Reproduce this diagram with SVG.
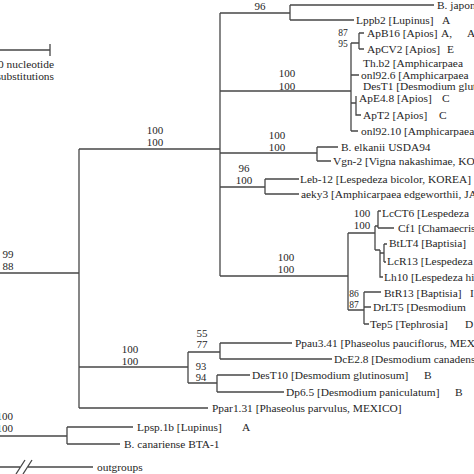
<svg xmlns="http://www.w3.org/2000/svg" width="474" height="474" viewBox="0 0 474 474">
<style>
.e{stroke:#474747;stroke-width:1.3;fill:none}
text{font-family:"Liberation Serif","Times New Roman",serif;fill:#262626}
.l{font-size:11.4px}
.b{font-size:11px;text-anchor:middle}
.s{font-size:9.5px;text-anchor:middle}
.r{font-size:11px;text-anchor:end}
</style>
<rect width="474" height="474" fill="#fff"/>
<g id="connectors" class="e">
<path d="M0,50 H50 M50,44 V56"/>
<path d="M0,467 H20 M28,467 H93 M16,474 L25,460 M23,474 L32,460"/>
<path d="M0,436 H67 M67,427 V444 M67,427 H133 M67,444 H120"/>
<path d="M0,273 H79 M79,149 V408 M79,149 H220 M79,367 H188 M79,408 H208"/>
<path d="M220,13 V276 M220,13 H290 M220,91 H351 M220,153 H317 M220,187 H265 M220,276 H348"/>
<path d="M290,5 V20 M290,5 H434 M290,20 H354"/>
<path d="M351,43 V131 M351,43 H359 M359,33 V49 M359,33 H364 M359,49 H364 M351,75 H359 M351,103 H356 M356,96 V115 H361 M351,131 H358"/>
<path d="M317,147 V161 M317,147 H338 M317,161 H331"/>
<path d="M265,179 V194 M265,179 H299 M265,194 H299"/>
<path d="M348,233 V310 M348,233 H375 M348,310 H364"/>
<path d="M375,226 V250 M375,226 H378 M378,211 V228 M378,211 H381 M378,228 H394 M375,250 H380 M380,250 V277 H383 M380,253 H384 M384,244 V262 M384,244 H387 M384,262 H386"/>
<path d="M364,292 V324 M364,292 H381 M364,307 H371 M364,324 H369"/>
<path d="M188,352 V383 M188,352 H220 M188,383 H217"/>
<path d="M220,343 V359 M220,343 H292 M220,359 H332"/>
<path d="M217,375 V392 M217,375 H250 M217,392 H284"/>
</g>
<g id="scale">
<text class="l" x="54" y="68" text-anchor="end">10 nucleotide</text>
<text class="l" x="54" y="80" text-anchor="end">substitutions</text>
</g>
<g id="outgroups"><text class="l" x="97" y="471">outgroups</text></g>
<g id="n-japonicum"><text class="l" x="437" y="9">B. japonicum</text></g>
<g id="n-lppb2"><text class="l" x="356" y="24">Lppb2 [Lupinus]<tspan x="442">A</tspan></text></g>
<g id="n-apb16"><text class="l" x="367" y="37">ApB16 [Apios]<tspan x="441">A,</tspan><tspan x="467">A</tspan></text></g>
<g id="n-apcv2"><text class="l" x="367" y="53">ApCV2 [Apios]<tspan x="447">E</tspan></text></g>
<g id="n-thb2"><text class="l" x="363" y="67">Th.b2 [Amphicarpaea</text></g>
<g id="n-onl926"><text class="l" x="361" y="79">onl92.6 [Amphicarpaea</text></g>
<g id="n-dest1"><text class="l" x="363" y="90">DesT1 [Desmodium glutinosum</text></g>
<g id="n-ape48"><text class="l" x="359" y="102">ApE4.8 [Apios]<tspan x="442">C</tspan></text></g>
<g id="n-apt2"><text class="l" x="363" y="119">ApT2 [Apios]<tspan x="439">C</tspan></text></g>
<g id="n-onl9210"><text class="l" x="361" y="135">onl92.10 [Amphicarpaea</text></g>
<g id="n-elkanii"><text class="l" x="341" y="151">B. elkanii USDA94</text></g>
<g id="n-vgn2"><text class="l" x="333" y="165">Vgn-2 [Vigna nakashimae, KOREA</text></g>
<g id="n-leb12"><text class="l" x="300" y="183">Leb-12 [Lespedeza bicolor, KOREA]</text></g>
<g id="n-aeky3"><text class="l" x="301" y="198">aeky3 [Amphicarpaea edgeworthii, JAPAN</text></g>
<g id="n-lcct6"><text class="l" x="382" y="217">LcCT6 [Lespedeza</text></g>
<g id="n-cf1"><text class="l" x="398" y="232">Cf1 [Chamaecrista</text></g>
<g id="n-btlt4"><text class="l" x="389" y="247">BtLT4 [Baptisia]</text></g>
<g id="n-lcr13"><text class="l" x="387" y="265">LcR13 [Lespedeza</text></g>
<g id="n-lh10"><text class="l" x="384" y="281">Lh10 [Lespedeza hirta</text></g>
<g id="n-btr13"><text class="l" x="384" y="297">BtR13 [Baptisia]<tspan x="470">I</tspan></text></g>
<g id="n-drlt5"><text class="l" x="373" y="311">DrLT5 [Desmodium</text></g>
<g id="n-tep5"><text class="l" x="370" y="328">Tep5 [Tephrosia]<tspan x="465">D</tspan></text></g>
<g id="n-ppau341"><text class="l" x="295" y="347">Ppau3.41 [Phaseolus pauciflorus, MEXICO]</text></g>
<g id="n-dce28"><text class="l" x="334" y="363">DcE2.8 [Desmodium canadense]</text></g>
<g id="n-dest10"><text class="l" x="252" y="379">DesT10 [Desmodium glutinosum]<tspan x="424">B</tspan></text></g>
<g id="n-dp65"><text class="l" x="286" y="396">Dp6.5 [Desmodium paniculatum]<tspan x="455">B</tspan></text></g>
<g id="n-ppar131"><text class="l" x="212" y="412">Ppar1.31 [Phaseolus parvulus, MEXICO]</text></g>
<g id="n-lpsp1b"><text class="l" x="137" y="431">Lpsp.1b [Lupinus]<tspan x="242">A</tspan></text></g>
<g id="n-canariense"><text class="l" x="124" y="448">B. canariense BTA-1</text></g>
<g id="supports">
<text class="b" x="260" y="10">96</text>
<text class="b" x="287" y="77">100</text><text class="b" x="287" y="90">100</text>
<text class="s" x="343" y="36">87</text><text class="s" x="343" y="47">95</text>
<text class="b" x="155" y="134">100</text><text class="b" x="155" y="146">100</text>
<text class="b" x="277" y="139">100</text><text class="b" x="277" y="151">100</text>
<text class="b" x="244" y="172">96</text><text class="b" x="244" y="184">100</text>
<text class="b" x="362" y="217">100</text><text class="b" x="362" y="229">100</text>
<text class="b" x="286" y="261">100</text><text class="b" x="286" y="273">100</text>
<text class="s" x="354" y="297">86</text><text class="s" x="354" y="308">87</text>
<text class="b" x="8" y="258">99</text><text class="b" x="8" y="270">88</text>
<text class="b" x="202" y="337">55</text><text class="b" x="202" y="348">77</text>
<text class="b" x="130" y="353">100</text><text class="b" x="130" y="365">100</text>
<text class="b" x="201" y="370" style="font-size:10.5px">93</text><text class="b" x="201" y="381" style="font-size:10.5px">94</text>
<text class="r" x="13" y="420">100</text><text class="r" x="13" y="432">100</text>
</g>
</svg>
